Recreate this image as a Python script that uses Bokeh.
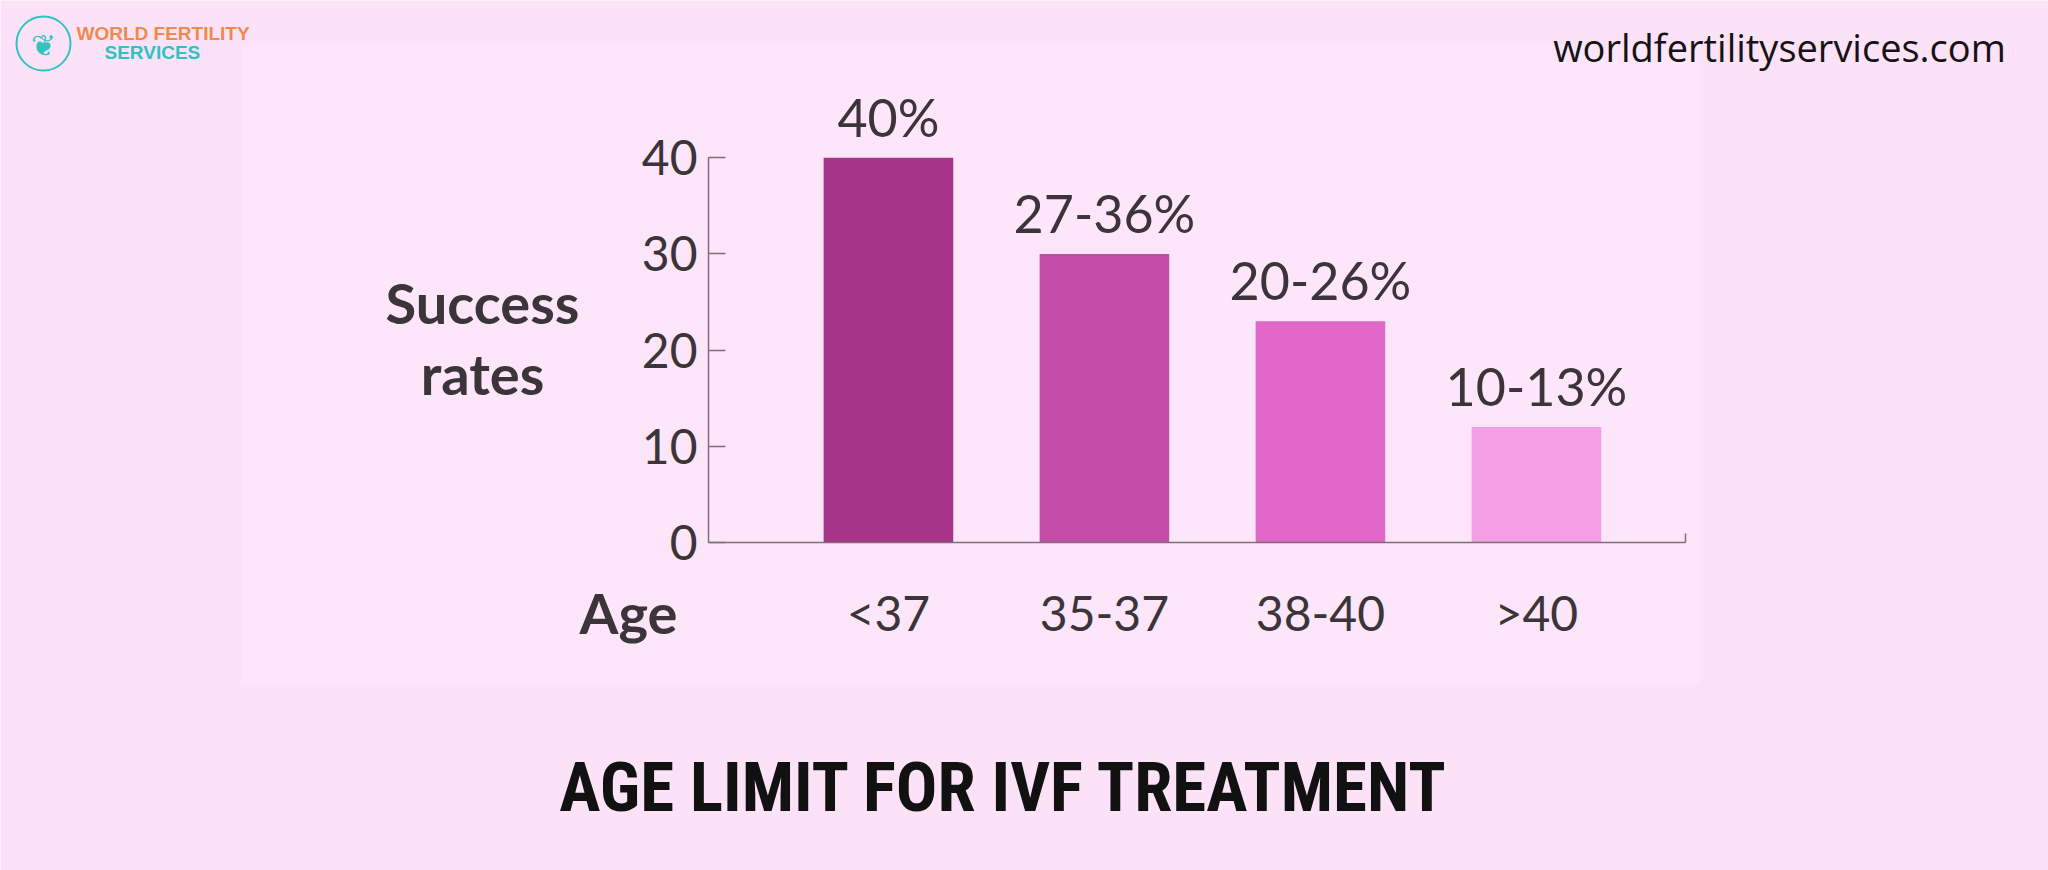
from bokeh.plotting import figure
from bokeh.models import ColumnDataSource, LinearAxis, FixedTicker, BoxAnnotation
from bokeh.core.properties import value
from bokeh.transform import dodge
from bokeh.embed import file_html
from bokeh.resources import INLINE

# ---- data ----
categories = ["<37", "35-37", "38-40", ">40"]
success = [40, 30, 23, 12]
bar_labels = ["40%", "27-36%", "20-26%", "10-13%"]
bar_colors = ["#a8348a", "#c34ca9", "#e168c9", "#f59de5"]
y_ticks = [0, 10, 20, 30, 40]

BG = "#fce2f7"
PANEL = "#fde6fa"
TXT = "#3b3438"
AX = "#7b6f79"

W, H = 2048, 870
# pixel layout of the chart area (axes)
AX_L, AX_R, AX_B = 708, 1685, 542
X_FIRST = -0.833          # data value at the y-axis
PX_PER_X = 216.0
PX_PER_Y = 9.62

def dx(px):
    return X_FIRST + (px - AX_L) / PX_PER_X

def dy(py):
    return (AX_B - py) / PX_PER_Y

xs = list(range(len(categories)))
src = ColumnDataSource(dict(x=xs, top=success, lab=bar_labels, color=bar_colors))

p = figure(width=W, height=H, output_backend="svg", toolbar_location=None,
           x_range=(dx(0), dx(W)), y_range=(dy(H), dy(0)),
           x_axis_location=None, y_axis_location=None, min_border=0)
p.background_fill_color = BG
p.border_fill_color = BG
p.outline_line_color = None
p.grid.visible = False

# subtle lighter panel behind chart
p.add_layout(BoxAnnotation(left=dx(242), right=dx(1700), top=dy(45), bottom=dy(683),
                           fill_color=PANEL, fill_alpha=1, line_color=None, level="underlay"))

# bars
p.vbar(x="x", top="top", width=0.6, bottom=0, source=src, fill_color="color", line_color=None)

# bar value labels
p.text(x="x", y=dodge("top", 41 / PX_PER_Y), text="lab", source=src,
       text_align="center", text_baseline="alphabetic",
       text_font=value("Lato"), text_font_size="52px", text_color=TXT)

# y axis
yax = LinearAxis(ticker=FixedTicker(ticks=y_ticks), bounds=(0, 40), fixed_location=dx(AX_L))
yax.major_tick_in = 17
yax.major_tick_out = 0
yax.minor_tick_line_color = None
yax.axis_line_color = AX
yax.axis_line_width = 1.5
yax.major_tick_line_color = AX
yax.major_tick_line_width = 1.5
yax.major_label_text_font = "Lato"
yax.major_label_text_font_size = "48px"
yax.major_label_text_color = TXT
yax.major_label_standoff = 11
p.add_layout(yax, "left")

# x axis
xax = LinearAxis(ticker=FixedTicker(ticks=xs),
                 major_label_overrides={i: c for i, c in zip(xs, categories)},
                 bounds=(dx(AX_L), dx(AX_R)), fixed_location=0)
xax.major_tick_in = 0
xax.major_tick_out = 0
xax.minor_tick_line_color = None
xax.axis_line_color = AX
xax.axis_line_width = 1.5
xax.major_label_text_font = "Lato"
xax.major_label_text_font_size = "48px"
xax.major_label_text_color = TXT
xax.major_label_standoff = 41
p.add_layout(xax, "below")

# small end tick at the right of the x axis
rax = LinearAxis(ticker=FixedTicker(ticks=[]), bounds=(0, 0.9), fixed_location=dx(AX_R))
rax.axis_line_color = AX
rax.axis_line_width = 1.5
rax.major_label_text_font_size = "0px"
rax.minor_tick_line_color = None
p.add_layout(rax, "left")

def txt(t, px, py, size, font="Lato", style="normal", color=TXT, align="center"):
    p.text(x=[dx(px)], y=[dy(py)], text=[t], text_align=align, text_baseline="middle",
           text_font=value(font), text_font_style=style, text_font_size=size, text_color=color)

# axis titles
txt("Success", 482, 302, "56px", style="bold")
txt("rates", 482, 373, "56px", style="bold")
txt("Age", 628, 612, "56px", style="bold")

# title
txt("AGE LIMIT FOR IVF TREATMENT", 1004, 787, "69px",
    font="'Roboto Condensed', 'DejaVu Sans Condensed', 'Liberation Sans Narrow', Roboto",
    style="bold", color="#111111")

# website
txt("worldfertilityservices.com", 1779, 46, "38px", font="Open Sans", color="#161216")

# logo
p.scatter(x=[dx(43)], y=[dy(43)], marker="circle", size=54, fill_color=None,
          line_color="#35c3c0", line_width=2)
txt("❦", 43, 45, "30px", font="DejaVu Sans", color="#35c3c0")
txt("WORLD FERTILITY", 76, 33, "19px", font="Liberation Sans", style="bold",
    color="#f08a4c", align="left")
txt("SERVICES", 104, 52, "19px", font="Liberation Sans", style="bold",
    color="#2fc2c0", align="left")

open("out.html", "w").write(file_html(p, INLINE))
